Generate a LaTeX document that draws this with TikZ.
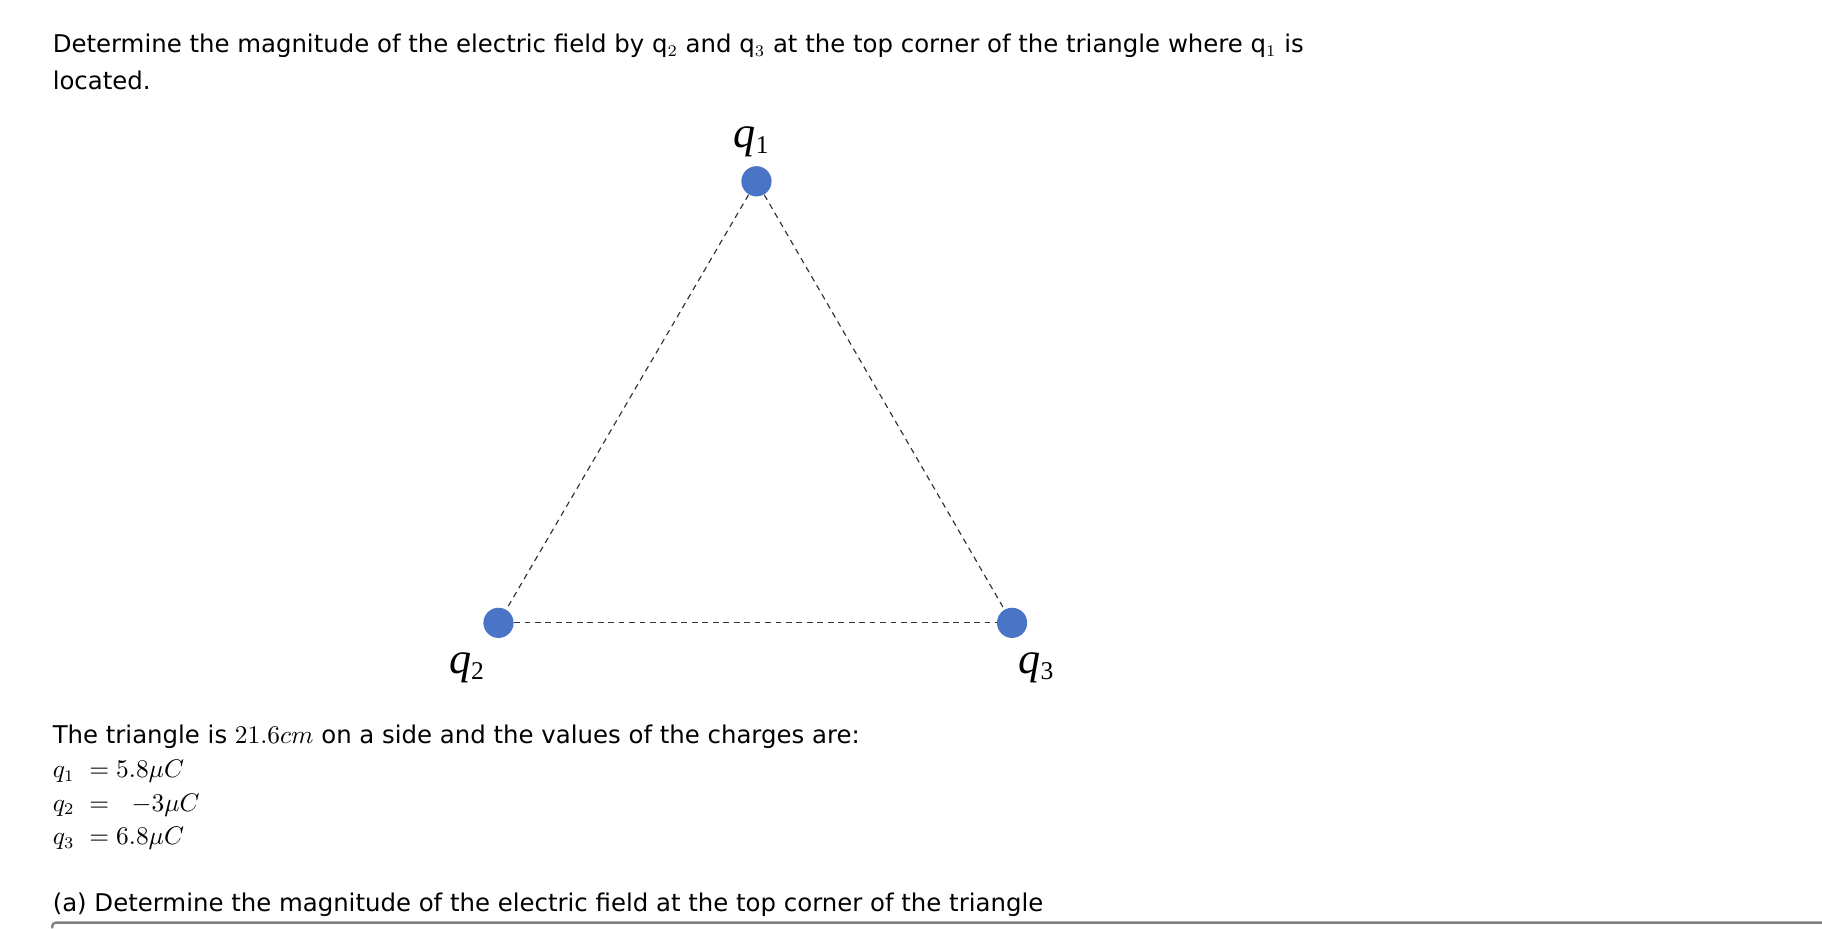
\documentclass[tikz,border=0pt]{standalone}
\usepackage{fontspec}
\setmainfont{DejaVu Sans}
\newfontfamily\lab{Liberation Serif}
\begin{document}
\begin{tikzpicture}[x=0.5pt,y=-0.5pt,
  txt/.style={anchor=base west,inner sep=0pt,font=\fontsize{10.5}{12}\selectfont},
  charge/.style={circle,fill=blue!55!cyan!70!black!80,fill={rgb,255:red,74;green,117;blue,199},minimum size=13pt,inner sep=0pt},
  lbl/.style={inner sep=0pt,font=\lab\fontsize{19}{20}\selectfont\itshape},
  side/.style={dashed,dash pattern=on 2.5pt off 2pt,line width=0.5pt,black!80}]
\useasboundingbox (0,0) rectangle (1568,799);
\node[txt] (t1) at (45,45) {Determine the magnitude of the electric field by q$_2$ and q$_3$ at the top corner of the triangle where q$_1$ is};
\node[txt] (t2) at (45,77) {located.};
\node[charge] (q1) at (651,156) {};
\node[charge] (q2) at (429,536) {};
\node[charge] (q3) at (871,536) {};
\draw[side] (q1) -- (q2);
\draw[side] (q1) -- (q3);
\draw[side] (q2) -- (q3);
\node[lbl] (l1) at (647,122) {q\textsubscript{\upshape\fontsize{11}{12}\selectfont 1}};
\node[lbl] (l2) at (402,575) {q\textsubscript{\upshape\fontsize{11}{12}\selectfont 2}};
\node[lbl] (l3) at (892,575) {q\textsubscript{\upshape\fontsize{11}{12}\selectfont 3}};
\node[txt] (t3) at (45,640) {The triangle is $21.6cm$ on a side and the values of the charges are:};
\node[txt] (e1) at (45,669) {$q_1\ =5.8\mu C$};
\node[txt] (e2) at (45,698) {$q_2\ = \ \ -3\mu C$};
\node[txt] (e3) at (45,727) {$q_3\ =6.8\mu C$};
\node[txt] (ta) at (45,784) {(a) Determine the magnitude of the electric field at the top corner of the triangle};
\draw[gray,line width=1pt] (45,799) -- (45,797) arc (180:270:3) -- (1568,794);
\end{tikzpicture}
\end{document}
